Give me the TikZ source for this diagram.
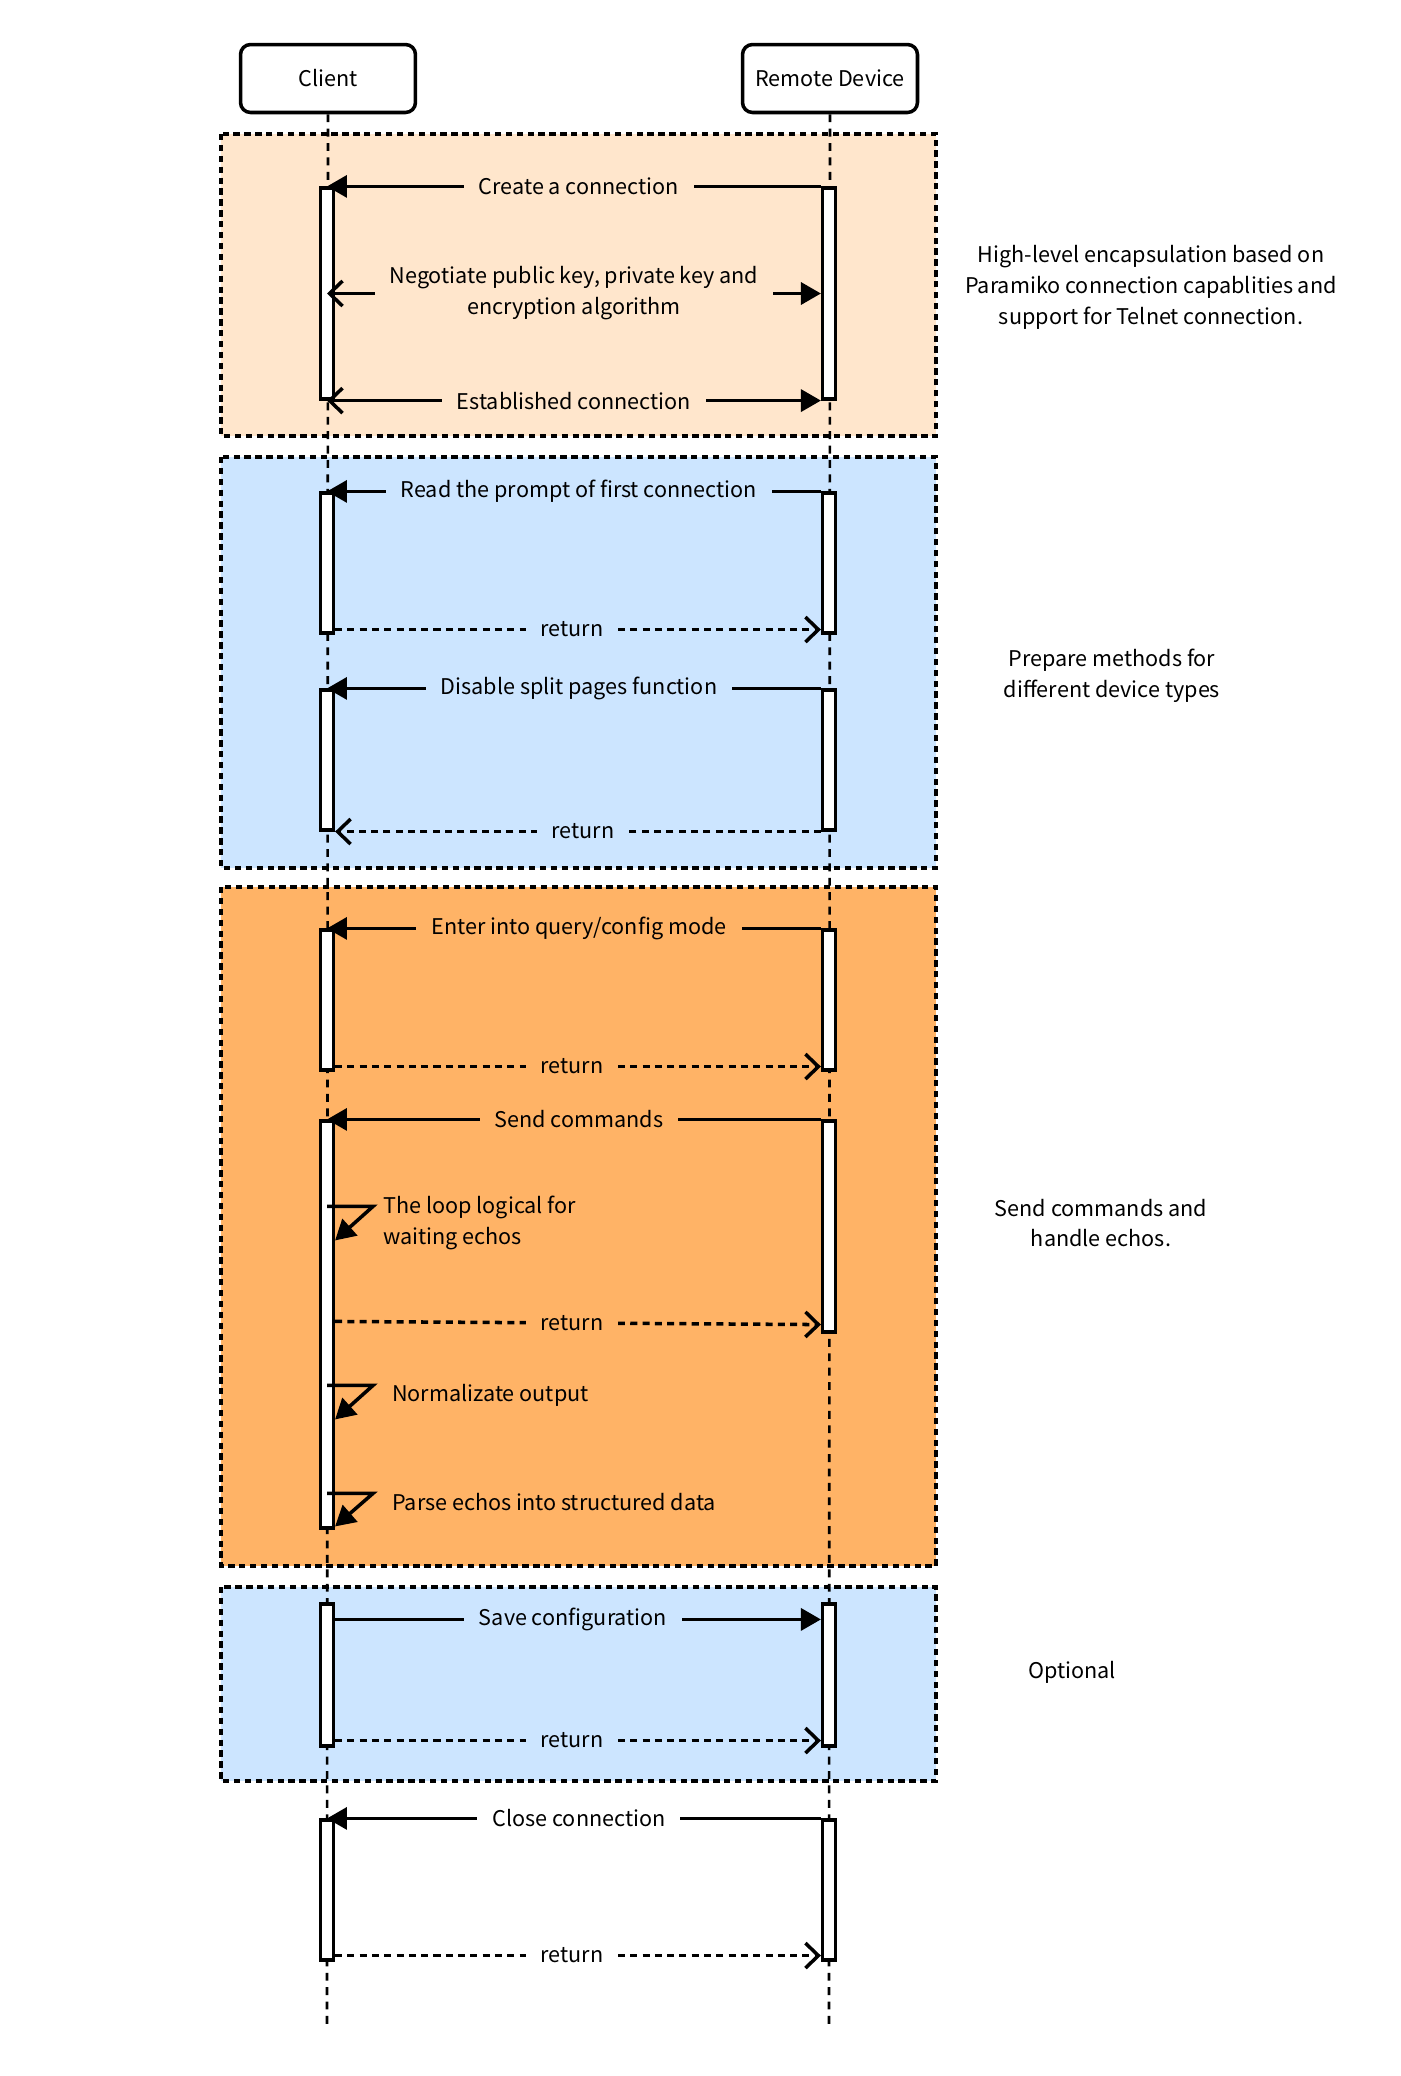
\documentclass[tikz,border=0pt]{standalone}
\usepackage{fontspec}
\setmainfont{Noto Sans CJK SC}
\usetikzlibrary{arrows.meta, calc, positioning}
\definecolor{Peach}{HTML}{FFE6CC}
\definecolor{SkyBlue}{HTML}{CCE5FF}
\definecolor{Apricot}{HTML}{FFB366}

\begin{document}
\begin{tikzpicture}[x=0.02cm, y=-0.02cm,
  font=\fontsize{12.3pt}{17.6pt}\selectfont,
  actor/.style={draw, line width=2pt, rounded corners=0.2cm, minimum width=3.5cm, minimum height=1.36cm, fill=white},
  life/.style={line width=1.5pt, dash pattern=on 4.5pt off 3.7pt},
  grp/.style={line width=2pt, dash pattern=on 3.6pt off 2.6pt},
  bar/.style={draw, fill=white, line width=1.8pt, minimum width=0.26cm, inner sep=0pt},
  msg/.style={line width=2pt, -{Triangle[length=0.4cm, width=0.44cm]}},
  both/.style={line width=2pt, {Straight Barb[length=0.26cm, width=0.5cm]}-{Triangle[length=0.4cm, width=0.44cm]}},
  ret/.style={line width=2pt, dash pattern=on 4pt off 3pt, -{Straight Barb[length=0.26cm, width=0.5cm]}},
  lbl/.style={fill=#1, inner xsep=0.3cm, inner ysep=1pt},
  note/.style={align=center}]
  % Page
  \fill[white] (0,0) rectangle (1400,2076);
  \useasboundingbox (0,0) rectangle (1400,2076);
  % Group frames
  \filldraw[grp, fill=Peach] (221,134) rectangle (936,436);
  \filldraw[grp, fill=SkyBlue] (221,457) rectangle (936,868);
  \filldraw[grp, fill=Apricot] (221,887) rectangle (936,1566);
  \filldraw[grp, fill=SkyBlue] (221,1587) rectangle (936,1781);
  % Participants and lifelines
  \node[actor] (client) at (328,78.5) {Client};
  \node[actor] (remote) at (830,78.5) {Remote Device};
  \coordinate (clientEnd) at (327,2029);
  \coordinate (remoteEnd) at (829,2029);
  \draw[life] (client.south) -- (clientEnd);
  \draw[life] (remote.south) -- (remoteEnd);
  % Activation bars
  \foreach \n/\top/\bot in {1/188/399, 2/493/633, 3/690/830, 4/930/1070, 6/1604/1746, 7/1820/1960}{
    \node[bar, minimum height={(\bot-\top)*0.02cm}] (L\n) at (327,{(\top+\bot)/2}) {};
    \node[bar, minimum height={(\bot-\top)*0.02cm}] (R\n) at (829,{(\top+\bot)/2}) {};
  }
  \node[bar, minimum height={(1528-1121)*0.02cm}] (L5) at (327,1324.5) {};
  \node[bar, minimum height={(1332-1121)*0.02cm}] (R5) at (829,1226.5) {};
  % Connection set-up
  \draw[msg] (R1.north west) -- node[lbl=Peach, xshift=0.1cm]{Create a connection} (L1.north);
  \draw[both] (L1.center) -- node[lbl=Peach, align=center]{Negotiate public key, private key and\\encryption algorithm} (R1.west);
  \draw[both] (L1.south) -- node[lbl=Peach]{Established connection} (R1.south west);
  % Device preparation
  \draw[msg] (R2.north west) -- node[lbl=SkyBlue, xshift=0.1cm]{Read the prompt of first connection} (L2.north);
  \draw[ret] ($(L2.south east)+(0,-5)$) -- node[lbl=SkyBlue, xshift=-0.12cm]{return} ($(R2.south west)+(0,-5)$);
  \draw[msg] (R3.north west) -- node[lbl=SkyBlue, xshift=0.1cm]{Disable split pages function} (L3.north);
  \draw[ret] (R3.south west) -- node[lbl=SkyBlue, xshift=0.1cm]{return} (L3.south east);
  % Commands
  \draw[msg] (R4.north west) -- node[lbl=Apricot, xshift=0.1cm]{Enter into query/config mode} (L4.north);
  \draw[ret] ($(L4.south east)+(0,-5)$) -- node[lbl=Apricot, xshift=-0.12cm]{return} ($(R4.south west)+(0,-5)$);
  \draw[msg] (R5.north west) -- node[lbl=Apricot, xshift=0.1cm]{Send commands} (L5.north);
  \draw[msg] ($(L5.north)+(0,87)$) -- ++(46,0) -- ($(L5.north east)+(0,121)$);
  \node[anchor=west, align=left] (loopA) at (377,1223) {The loop logical for\\ waiting echos};
  \draw[ret] ($(L5.north east)+(0,202)$) -- node[lbl=Apricot, xshift=-0.12cm]{return} ($(R5.south west)+(0,-9)$);
  \draw[msg] ($(L5.north)+(0,266)$) -- ++(46,0) -- ($(L5.north east)+(0,300)$);
  \node[anchor=west] (loopB) at (386,1395) {Normalizate output};
  \draw[msg] ($(L5.north)+(0,374)$) -- ++(46,0) -- ($(L5.north east)+(0,407)$);
  \node[anchor=west] (loopC) at (386,1502) {Parse echos into structured data};
  % Optional save
  \draw[msg] ($(L6.north east)+(0,17)$) -- node[lbl=SkyBlue, xshift=-0.1cm]{Save configuration} ($(R6.north west)+(0,17)$);
  \draw[ret] ($(L6.south east)+(0,-7)$) -- node[lbl=SkyBlue, xshift=-0.12cm]{return} ($(R6.south west)+(0,-7)$);
  % Close
  \draw[msg] (R7.north west) -- node[lbl=white, xshift=0.1cm]{Close connection} (L7.north);
  \draw[ret] ($(L7.south east)+(0,-6)$) -- node[lbl=white, xshift=-0.12cm]{return} ($(R7.south west)+(0,-6)$);
  % Side notes
  \node[note] (noteA) at (1151,287) {High-level encapsulation based on\\Paramiko connection capablities and\\support for Telnet connection.};
  \node[note] (noteB) at (1112,676) {Prepare methods for\\different device types};
  \node[note] (noteC) at (1101,1223) {Send commands and\\handle echos.};
  \node[note] (noteD) at (1072,1672) {Optional};
\end{tikzpicture}
\end{document}
